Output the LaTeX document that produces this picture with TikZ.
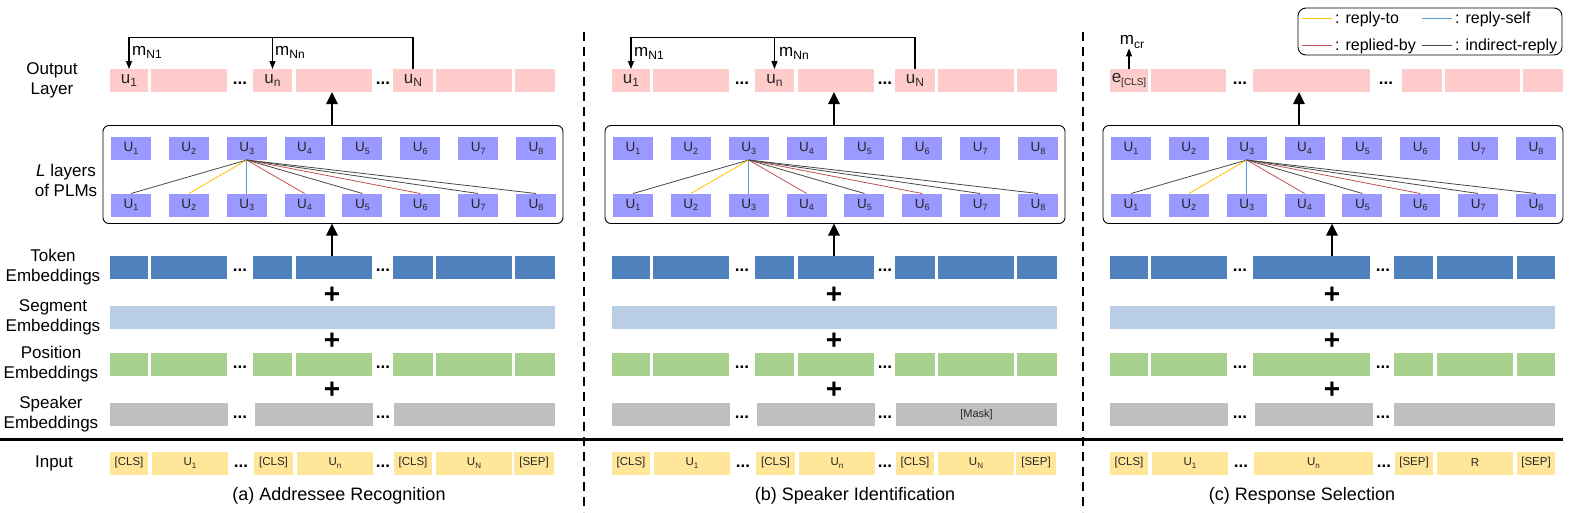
\documentclass[tikz,border=0pt]{standalone}
\usepackage{fontspec}
\setmainfont{Liberation Sans}
\usetikzlibrary{arrows.meta,calc}

\definecolor{outc}{RGB}{255,204,204}
\definecolor{uc}{RGB}{153,153,255}
\definecolor{tokc}{RGB}{79,129,189}
\definecolor{segc}{RGB}{185,205,229}
\definecolor{posc}{RGB}{169,209,142}
\definecolor{spkc}{RGB}{191,191,191}
\definecolor{inc}{RGB}{255,230,153}
\definecolor{lyel}{RGB}{255,192,0}
\definecolor{lblu}{RGB}{91,155,213}
\definecolor{lred}{RGB}{192,80,77}
\definecolor{lgry}{RGB}{72,72,72}

\newcommand{\fs}[1]{\fontsize{#1}{#1}\selectfont}
\newcommand{\sbs}[2]{\raisebox{-0.35ex}{\fontsize{#1}{#1}\selectfont #2}}

\newcommand{\cellrow}[4]{\foreach \n/\l/\r/\t in {#4} {\node[cellbox,#3,minimum width={\r-\l}] (#1\n) at ({(\l+\r)/2},#2) {\t};}}

\newcommand{\plm}[1]{%
  \node[draw, rounded corners=6pt, line width=0.9pt, minimum width=460pt, minimum height=98pt, inner sep=0, outer sep=0] (#1plm) at (223,174.5) {};
  \foreach \i in {1,...,8} {
    \pgfmathsetmacro\cx{21+(\i-1)*57.86}
    \node[ubox] (#1u\i) at (\cx,148.5) {U\sbs{9}{\i}};
    \node[ubox] (#1d\i) at (\cx,205) {U\sbs{9}{\i}};
  }
  \foreach \i/\c in {1/lgry,2/lyel,3/lblu,4/lred,5/lgry,6/lred,7/lgry,8/lgry}
    \draw[\c, line width=0.8pt] (#1u3.south) -- (#1d\i.north);
}

% embeddings: prefix, token list, speaker list
\newcommand{\embed}[3]{%
  \cellrow{#1T}{267.5}{fill=tokc}{#2}
  \node[cellbox, fill=segc, minimum width=445pt] (#1S) at (222.5,317) {};
  \cellrow{#1P}{364.5}{fill=posc}{#2}
  \cellrow{#1K}{414.5}{fill=spkc,font=\fs{11}}{#3}
  \foreach \yy in {267.5,364.5,414.5} {
    \node[dotsn] at (130,\yy+3) {...};
    \node[dotsn] at (273,\yy+3) {...};
  }
  \node[plussign] at (222,295) {+};
  \node[plussign] at (222,341) {+};
  \node[plussign] at (222,390) {+};
  \coordinate (#1ax) at (222,0);
}

\begin{document}
\begin{tikzpicture}[x=1pt,y=-1pt, font=\fs{17},
  cellbox/.style={inner sep=0, outer sep=0, minimum height=23pt, text=black!85},
  ubox/.style={cellbox, fill=uc, minimum width=40pt, font=\fs{13.5}},
  dotsn/.style={font=\bfseries\fs{17}, inner sep=0},
  plussign/.style={font=\bfseries\fs{28}, inner sep=0},
  bigarrow/.style={line width=2.6pt, -{Triangle[length=12pt,width=11pt]}},
  thinarrow/.style={line width=1.1pt, -{Triangle[length=8pt,width=6pt]}},
  lbl/.style={align=center, font=\fontsize{17}{20}\selectfont, inner sep=0},
  captxt/.style={font=\fs{17}, inner sep=0}]

\useasboundingbox (0,0) rectangle (1571,512);

% left labels
\node[lbl] (lOut) at (52,80.5) {Output\\Layer};
\node[lbl] (lPlm) at (66,180) {\textit{L} layers\\of PLMs};
\node[lbl] (lTok) at (53,267.5) {Token\\Embeddings};
\node[lbl] (lSeg) at (53,317) {Segment\\Embeddings};
\node[lbl] (lPos) at (51,364.5) {Position\\Embeddings};
\node[lbl] (lSpk) at (51,414.5) {Speaker\\Embeddings};
\node[lbl] (lIn) at (54,463) {Input};

% separators
\draw[line width=3pt] (0,439) -- (1563,439);
\draw[line width=1.2pt, dash pattern=on 9pt off 6pt] (584,32) -- (584,512);
\draw[line width=1.2pt, dash pattern=on 9pt off 6pt] (1083,32) -- (1083,512);

% ===== panel a =====
\begin{scope}[xshift=110pt]
  \cellrow{aO}{80.5}{fill=outc}{1/0/38/{u\sbs{12}{1}},2/41/117/{},3/143/182/{u\sbs{12}{n}},4/186/262/{},5/283/323/{u\sbs{12}{N}},6/326/402/{},7/405/445/{}}
  \node[dotsn] at (130,83.5) {...};
  \node[dotsn] at (273,83.5) {...};
  \plm{a}
  \embed{a}{1/0/38/{},2/41/117/{},3/143/182/{},4/186/262/{},5/283/323/{},6/326/402/{},7/405/445/{}}{1/0/118/{},2/145/263/{},3/284/445/{}}
  \cellrow{aI}{463}{fill=inc,font=\fs{11.5}}{1/0/38/{[CLS]},2/42/118/{U\sbs{8}{1}},3/144/183/{[CLS]},4/187/263/{U\sbs{8}{n}},5/284/322/{[CLS]},6/326/402/{U\sbs{8}{N}},7/404/444/{[SEP]}}
  \node[dotsn] at (131,466) {...};
  \node[dotsn] at (273,466) {...};
  \draw[bigarrow] (aT4.north -| aax) -- (aplm.south -| aax);
  \draw[bigarrow] (aplm.north -| aax) -- (aO4.south -| aax);
  \coordinate (atop) at (0,37.5);
  \draw[thinarrow] (aO5.north) -- (aO5.north |- atop) -| (aO1.north);
  \draw[thinarrow] (aO3.north |- atop) -- (aO3.north);
  \node[captxt, anchor=west] (amN1) at (22,52) {m\sbs{12}{N1}};
  \node[captxt, anchor=west] (amNn) at (165,52) {m\sbs{12}{Nn}};
  \node[captxt, font=\fs{18}] (acap) at (229,496) {(a) Addressee Recognition};
\end{scope}

% ===== panel b =====
\begin{scope}[xshift=612pt]
  \cellrow{bO}{80.5}{fill=outc}{1/0/38/{u\sbs{12}{1}},2/41/117/{},3/143/182/{u\sbs{12}{n}},4/186/262/{},5/283/323/{u\sbs{12}{N}},6/326/402/{},7/405/445/{}}
  \node[dotsn] at (130,83.5) {...};
  \node[dotsn] at (273,83.5) {...};
  \plm{b}
  \embed{b}{1/0/38/{},2/41/117/{},3/143/182/{},4/186/262/{},5/283/323/{},6/326/402/{},7/405/445/{}}{1/0/118/{},2/145/263/{},3/284/445/{[Mask]}}
  \cellrow{bI}{463}{fill=inc,font=\fs{11.5}}{1/0/38/{[CLS]},2/42/118/{U\sbs{8}{1}},3/144/183/{[CLS]},4/187/263/{U\sbs{8}{n}},5/284/322/{[CLS]},6/326/402/{U\sbs{8}{N}},7/404/444/{[SEP]}}
  \node[dotsn] at (131,466) {...};
  \node[dotsn] at (273,466) {...};
  \draw[bigarrow] (bT4.north -| bax) -- (bplm.south -| bax);
  \draw[bigarrow] (bplm.north -| bax) -- (bO4.south -| bax);
  \coordinate (btop) at (0,37.5);
  \draw[thinarrow] (bO5.north) -- (bO5.north |- btop) -| (bO1.north);
  \draw[thinarrow] (bO3.north |- btop) -- (bO3.north);
  \node[captxt, anchor=west] (bmN1) at (22,53) {m\sbs{12}{N1}};
  \node[captxt, anchor=west] (bmNn) at (167,53) {m\sbs{12}{Nn}};
  \node[captxt, font=\fs{18}] (bcap) at (243,496) {(b) Speaker Identification};
\end{scope}

% ===== panel c =====
\begin{scope}[xshift=1110pt]
  \cellrow{cO}{80.5}{fill=outc}{1/0/38/{e\sbs{10}{[CLS]}},2/41/116/{},3/143/260/{},4/292/332/{},5/335/410/{},6/413/453/{}}
  \node[dotsn] at (130,83.5) {...};
  \node[dotsn] at (276,83.5) {...};
  \plm{c}
  \embed{c}{1/0/38/{},2/41/117/{},3/143/260/{},4/284/323/{},5/327/403/{},6/407/445/{}}{1/0/118/{},2/145/263/{},3/284/445/{}}
  \cellrow{cI}{463}{fill=inc,font=\fs{11.5}}{1/0/38/{[CLS]},2/42/118/{U\sbs{8}{1}},3/144/263/{U\sbs{8}{n}},4/285/323/{[SEP]},5/327/403/{R},6/407/445/{[SEP]}}
  \node[dotsn] at (131,466) {...};
  \node[dotsn] at (274,466) {...};
  \coordinate (cux) at (189,0);
  \draw[bigarrow] (cT3.north -| cax) -- (cplm.south -| cax);
  \draw[bigarrow] (cplm.north -| cux) -- (cO3.south -| cux);
  \node[captxt] (cmcr) at (22,42) {m\sbs{12}{cr}};
  \draw[thinarrow] (cO1.north) -- (cO1.north |- cmcr.south);
  \node[captxt, font=\fs{18}] (ccap) at (192,496) {(c) Response Selection};
\end{scope}

% legend
\node[draw, rounded corners=8pt, line width=0.9pt, minimum width=264pt, minimum height=47pt, inner sep=0] (legend) at (1430,31.5) {};
\draw[lyel, line width=1pt] (1302,18) -- (1332,18);
\node[captxt, anchor=base west, font=\fs{16}] (lg1) at (1335,23.5) {: reply-to};
\draw[lblu, line width=1pt] (1422,18) -- (1452,18);
\node[captxt, anchor=base west, font=\fs{16}] (lg2) at (1455,23.5) {: reply-self};
\draw[lred, line width=1pt] (1302,45) -- (1332,45);
\node[captxt, anchor=base west, font=\fs{16}] (lg3) at (1335,50.5) {: replied-by};
\draw[lgry, line width=1pt] (1422,45) -- (1452,45);
\node[captxt, anchor=base west, font=\fs{16}] (lg4) at (1455,50.5) {: indirect-reply};
\end{tikzpicture}
\end{document}
